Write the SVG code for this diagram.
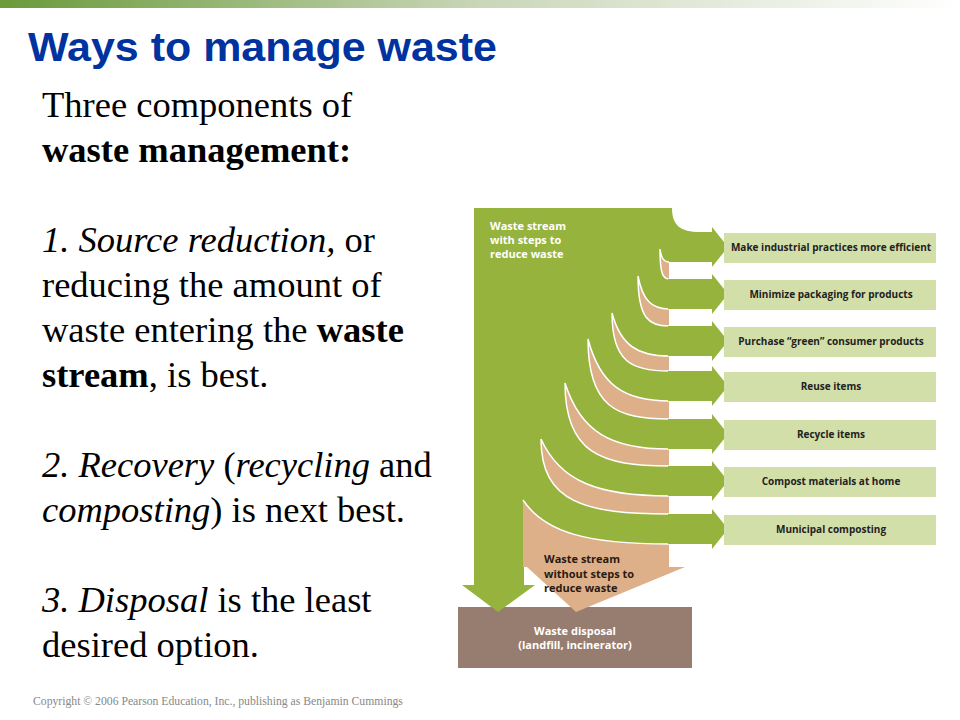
<svg xmlns="http://www.w3.org/2000/svg" width="960" height="720" viewBox="0 0 960 720">
<defs>
<linearGradient id="bar" x1="0" x2="1"><stop offset="0" stop-color="#6a9a3a"/><stop offset="0.5" stop-color="#c9d6b8"/><stop offset="1" stop-color="#ffffff"/></linearGradient>
</defs>
<style>
.g{fill:#95b33d}.t{fill:#ddb08a}.w{fill:none;stroke:#fff;stroke-width:1.5}
.box{fill:#d3dfa9}
.bl{font-family:"Open Sans","DejaVu Sans",sans-serif;font-weight:bold;font-size:10px;fill:#222;text-anchor:middle}
.body{font-family:"Liberation Serif",serif;font-size:36.5px;fill:#000}
.in{font-family:"Open Sans","DejaVu Sans",sans-serif;font-weight:bold;font-size:11px}
</style>
<rect x="0" y="0" width="960" height="8" fill="url(#bar)"/>
<text x="28" y="61" font-family="Liberation Sans, Arial, sans-serif" font-weight="bold" font-size="40" fill="#0033a0" textLength="469" lengthAdjust="spacingAndGlyphs">Ways to manage waste</text>
<g id="bodytext" class="body">
<text x="42" y="117">Three components of</text>
<text x="42" y="162" font-weight="bold">waste management:</text>
<text x="42" y="252"><tspan font-style="italic">1. Source reduction,</tspan> or</text>
<text x="42" y="297">reducing the amount of</text>
<text x="42" y="342">waste entering the <tspan font-weight="bold">waste</tspan></text>
<text x="42" y="387"><tspan font-weight="bold">stream</tspan>, is best.</text>
<text x="42" y="477"><tspan font-style="italic">2. Recovery</tspan> (<tspan font-style="italic">recycling</tspan> and</text>
<text x="42" y="522"><tspan font-style="italic">composting</tspan>) is next best.</text>
<text x="42" y="612"><tspan font-style="italic">3. Disposal</tspan> is the least</text>
<text x="42" y="657">desired option.</text>
</g>
<text x="33" y="705" font-family="Liberation Serif,serif" font-size="11.7" fill="#888">Copyright © 2006 Pearson Education, Inc., publishing as Benjamin Cummings</text>

<g id="disposal">
<rect x="458" y="607" width="234" height="61" fill="#977d70"/>
<text class="in" x="575" y="635" fill="#fff" text-anchor="middle">Waste disposal</text>
<text class="in" x="575" y="649" fill="#fff" text-anchor="middle">(landfill, incinerator)</text>
</g>

<g id="stream">
<path class="g" d="M474,208 L672,208 C672,225 680,232 700,232 L712,232 L712,227 L728,247 L712,267 L712,262 L669,262 L669,567 L524,567 L524,585 L535,585 L498,612 L462,585 L474,585 Z"/>
<path class="t" d="M660,249 C661.4,258.8 664,262 669,262 L669,567 L660,567 Z"/>
<path class="g" d="M660,249 C660,274.5 663.2,279 669,279 L669,567 L660,567 Z"/>
<path class="t" d="M638,276 C642.7,300.8 652,309 669,309 L669,567 L638,567 Z"/>
<path class="g" d="M638,276 C638,318.5 648.9,326 669,326 L669,567 L638,567 Z"/>
<path class="t" d="M612,313 C620.6,345.3 637.7,356 669,356 L669,567 L612,567 Z"/>
<path class="g" d="M612,313 C612,362.3 632,371 669,371 L669,567 L612,567 Z"/>
<path class="t" d="M588,339 C600.2,385.5 624.5,401 669,401 L669,567 L588,567 Z"/>
<path class="g" d="M588,339 C588,407 616.4,419 669,419 L669,567 L588,567 Z"/>
<path class="t" d="M565,383 C580.6,432.5 611.8,449 669,449 L669,567 L565,567 Z"/>
<path class="g" d="M565,383 C565,453.6 601.4,466 669,466 L669,567 L565,567 Z"/>
<path class="t" d="M541,439 C560.2,481.8 598.6,496 669,496 L669,567 L541,567 Z"/>
<path class="g" d="M541,439 C541,502.8 585.8,514 669,514 L669,567 L541,567 Z"/>
<path class="t" d="M523,500 C544.9,533 588.7,544 669,544 L669,567 L685,567 L576,612 L527,567 L523,567 Z"/>
<path class="w" d="M660,249 C661.4,258.8 664,262 669,262 M660,249 C660,274.5 663.2,279 669,279 M638,276 C642.7,300.8 652,309 669,309 M638,276 C638,318.5 648.9,326 669,326 M612,313 C620.6,345.3 637.7,356 669,356 M612,313 C612,362.3 632,371 669,371 M588,339 C600.2,385.5 624.5,401 669,401 M588,339 C588,407 616.4,419 669,419 M565,383 C580.6,432.5 611.8,449 669,449 M565,383 C565,453.6 601.4,466 669,466 M541,439 C560.2,481.8 598.6,496 669,496 M541,439 C541,502.8 585.8,514 669,514 M523,500 C544.9,533 588.7,544 669,544"/>
<text class="in" fill="#fff"><tspan x="490" y="230">Waste stream</tspan><tspan x="490" y="244">with steps to</tspan><tspan x="490" y="258">reduce waste</tspan></text>
<text class="in" fill="#2a1a10" font-size="10.5"><tspan x="544" y="563">Waste stream</tspan><tspan x="544" y="578">without steps to</tspan><tspan x="544" y="592">reduce waste</tspan></text>
</g>

<g id="connectors">
<path class="g" d="M668,279 L712,279 L712,274 L728,294 L712,314 L712,309 L668,309 Z"/>
<path class="g" d="M668,326 L712,326 L712,321 L728,341 L712,361 L712,356 L668,356 Z"/>
<path class="g" d="M668,371 L712,371 L712,366 L728,386 L712,406 L712,401 L668,401 Z"/>
<path class="g" d="M668,419 L712,419 L712,414 L728,434 L712,454 L712,449 L668,449 Z"/>
<path class="g" d="M668,466 L712,466 L712,461 L728,481 L712,501 L712,496 L668,496 Z"/>
<path class="g" d="M668,514 L712,514 L712,509 L728,529 L712,549 L712,544 L668,544 Z"/>
</g>

<g id="n1"><rect class="box" x="724" y="233" width="212" height="30"/><text class="bl" x="831" y="251">Make industrial practices more efficient</text></g>
<g id="n2"><rect class="box" x="724" y="280" width="212" height="30"/><text class="bl" x="831" y="298">Minimize packaging for products</text></g>
<g id="n3"><rect class="box" x="724" y="327" width="212" height="30"/><text class="bl" x="831" y="345">Purchase “green” consumer products</text></g>
<g id="n4"><rect class="box" x="724" y="372" width="212" height="30"/><text class="bl" x="831" y="390">Reuse items</text></g>
<g id="n5"><rect class="box" x="724" y="420" width="212" height="30"/><text class="bl" x="831" y="438">Recycle items</text></g>
<g id="n6"><rect class="box" x="724" y="467" width="212" height="30"/><text class="bl" x="831" y="485">Compost materials at home</text></g>
<g id="n7"><rect class="box" x="724" y="515" width="212" height="30"/><text class="bl" x="831" y="533">Municipal composting</text></g>
</svg>
